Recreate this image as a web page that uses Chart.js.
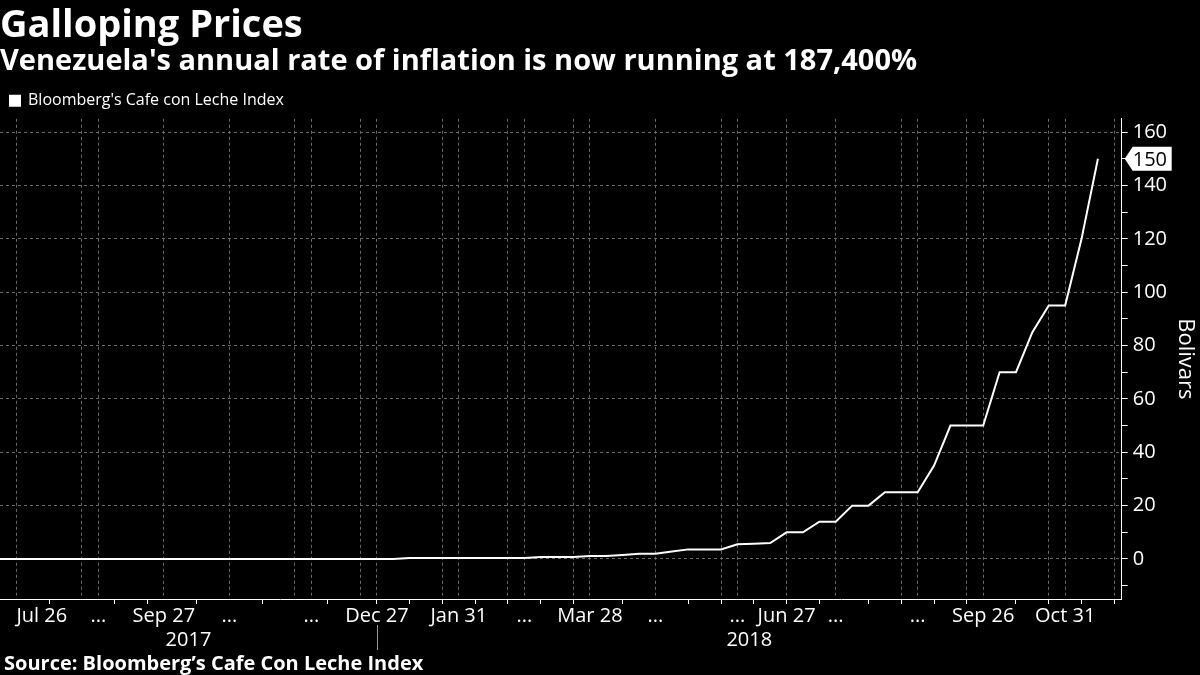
<!DOCTYPE html>
<html>
<head>
<meta charset="utf-8">
<script src="https://cdn.jsdelivr.net/npm/chart.js@4.4.0/dist/chart.umd.min.js"></script>
<style>
  html, body { margin: 0; padding: 0; background: #000; }
  #wrap { width: 1200px; height: 675px; position: relative; }
</style>
</head>
<body>
<div id="wrap"><canvas id="chart"></canvas></div>
<script>
// ---- Data: weekly Cafe con Leche readings (bolivars) ----
const dates = [
  '2017-07-19','2017-07-26','2017-08-02','2017-08-09','2017-08-16','2017-08-23','2017-08-30',
  '2017-09-06','2017-09-13','2017-09-20','2017-09-27','2017-10-04','2017-10-11','2017-10-18',
  '2017-10-25','2017-11-01','2017-11-08','2017-11-15','2017-11-22','2017-11-29','2017-12-06',
  '2017-12-13','2017-12-20','2017-12-27',
  '2018-01-03','2018-01-10','2018-01-17','2018-01-24','2018-01-31','2018-02-07','2018-02-14',
  '2018-02-21','2018-02-28','2018-03-07','2018-03-14','2018-03-21','2018-03-28','2018-04-04',
  '2018-04-11','2018-04-18','2018-04-25','2018-05-02','2018-05-09','2018-05-16','2018-05-23',
  '2018-05-30','2018-06-13','2018-06-20','2018-06-27','2018-07-11','2018-07-18','2018-07-25',
  '2018-08-01','2018-08-08','2018-08-15','2018-08-22','2018-08-29','2018-09-05','2018-09-12',
  '2018-09-19','2018-09-26','2018-10-03','2018-10-10','2018-10-17','2018-10-24','2018-10-31',
  '2018-11-07','2018-11-14','2018-11-21'
];
const prices = [
  0, 0, 0, 0, 0, 0, 0,
  0, 0, 0, 0, 0, 0, 0,
  0, 0, 0, 0, 0, 0, 0,
  0, 0, 0,
  0, 0.4, 0.4, 0.4, 0.4, 0.4, 0.4,
  0.4, 0.4, 0.75, 0.75, 0.75, 1.1, 1.1,
  1.5, 2, 2, 2.8, 3.6, 3.6, 3.6,
  5.5, 5.7, 6, 10, 10, 14, 14,
  20, 20, 25, 25, 25, 35, 50,
  50, 50, 70, 70, 85, 95, 95,
  120, 150, null
];

// x-axis text
const shownDates  = ['2017-07-26','2017-09-27','2017-12-27','2018-01-31','2018-03-28','2018-06-27','2018-09-26','2018-10-31'];
const shownLabels = ['Jul 26','Sep 27','Dec 27','Jan 31','Mar 28','Jun 27','Sep 26','Oct 31'];
const elidedDates = ['2017-08-30','2017-10-25','2017-11-29','2018-02-28','2018-04-25','2018-05-30','2018-07-25','2018-08-29'];
const gridDates = [
  '2017-07-26','2017-08-23','2017-08-30','2017-09-27','2017-10-25','2017-11-22','2017-11-29',
  '2017-12-20','2017-12-27','2018-01-24','2018-01-31','2018-02-21','2018-02-28','2018-03-21',
  '2018-03-28','2018-04-25','2018-05-23','2018-05-30','2018-06-27','2018-07-25','2018-08-22',
  '2018-08-29','2018-09-19','2018-09-26','2018-10-24','2018-10-31','2018-11-21'
];
const tickMarkDates = [
  '2017-08-09','2017-09-06','2017-09-20','2017-10-11','2017-11-08','2017-12-06','2017-12-27',
  '2018-01-10','2018-01-24','2018-02-07','2018-02-21','2018-03-07','2018-03-21','2018-04-11',
  '2018-05-09','2018-05-23','2018-06-13','2018-06-27','2018-07-18','2018-08-08','2018-08-22',
  '2018-09-05','2018-09-19','2018-10-10','2018-10-24','2018-11-07','2018-11-21'
];
const yearLabels = ['2017', '2018'];
const yTicks = [-10, 0, 10, 20, 30, 40, 50, 60, 70, 80, 90, 100, 110, 120, 130, 140, 150, 160];

const FONT = "'Open Sans', 'Noto Sans', sans-serif";
const GRID = '#6a6a6a';
Chart.defaults.font.family = FONT;
Chart.defaults.color = '#fff';

function xLabel(v) {
  const d = dates[v];
  const k = shownDates.indexOf(d);
  if (k >= 0) return shownLabels[k];
  if (elidedDates.includes(d)) return '...';
  return '';
}

// badge on last value, year row, source line
const extras = {
  id: 'extras',
  afterDraw(chart) {
    const { ctx, chartArea } = chart;
    const xs = chart.scales.x, ys = chart.scales.y;
    ctx.save();

    // last value badge
    let last = prices.length - 1;
    while (prices[last] == null) last--;
    const yv = ys.getPixelForValue(prices[last]);
    const x0 = chartArea.right + 3;
    ctx.fillStyle = '#fff';
    ctx.beginPath();
    ctx.moveTo(x0, yv);
    ctx.lineTo(x0 + 8, yv - 12);
    ctx.lineTo(x0 + 47, yv - 12);
    ctx.lineTo(x0 + 47, yv + 12);
    ctx.lineTo(x0 + 8, yv + 12);
    ctx.closePath();
    ctx.fill();
    ctx.fillStyle = '#000';
    ctx.font = `20px ${FONT}`;
    ctx.textAlign = 'left';
    ctx.textBaseline = 'middle';
    ctx.fillText(String(prices[last]), x0 + 8, yv + 1);

    // year row
    let lastOfFirstYear = 0;
    dates.forEach((d, i) => { if (d.startsWith(yearLabels[0])) lastOfFirstYear = i; });
    const bx = xs.getPixelForValue(lastOfFirstYear);
    ctx.fillStyle = '#fff';
    ctx.textAlign = 'center';
    ctx.fillText(yearLabels[0], (chartArea.left + bx) / 2, 640);
    ctx.fillText(yearLabels[1], (bx + chartArea.right) / 2, 640);
    ctx.strokeStyle = '#999';
    ctx.lineWidth = 1;
    ctx.beginPath();
    ctx.moveTo(Math.round(bx) + 0.5, 625);
    ctx.lineTo(Math.round(bx) + 0.5, 650);
    ctx.stroke();

    // source
    ctx.textAlign = 'left';
    ctx.font = `bold 20px ${FONT}`;
    ctx.fillText('Source: Bloomberg\u2019s Cafe Con Leche Index', 4, 664);
    ctx.restore();
  }
};

new Chart(document.getElementById('chart'), {
  type: 'line',
  data: {
    datasets: [{
      label: "Bloomberg's Cafe con Leche Index",
      data: dates.map((d, i) => ({ x: i, y: prices[i] })),
      borderColor: '#fff',
      backgroundColor: '#fff',
      borderWidth: 2,
      pointRadius: 0,
      tension: 0
    }]
  },
  options: {
    responsive: true,
    maintainAspectRatio: false,
    animation: false,
    layout: { padding: { left: 0, right: 0, top: 0, bottom: 47 } },
    plugins: {
      title: {
        display: true, text: 'Galloping Prices', align: 'start', color: '#fff',
        font: { size: 38, weight: 'bold', lineHeight: 1.05 }, padding: { top: 6, bottom: 0 }
      },
      subtitle: {
        display: true, text: "Venezuela's annual rate of inflation is now running at 187,400%",
        align: 'start', color: '#fff',
        font: { size: 29, weight: 'bold', lineHeight: 1.1 }, padding: { top: 0, bottom: 5 }
      },
      legend: {
        position: 'top', align: 'start',
        labels: { color: '#fff', boxWidth: 10, boxHeight: 10, padding: 10, font: { size: 16 } }
      },
      tooltip: { enabled: false }
    },
    scales: {
      x: {
        type: 'linear', min: 0, max: 68.45,
        afterBuildTicks: s => { s.ticks = dates.slice(1).map((d, k) => ({ value: k + 1 })); },
        ticks: {
          autoSkip: false, maxRotation: 0, align: 'inner', padding: 0,
          color: '#fff', font: { size: 20 }, callback: v => xLabel(v)
        },
        grid: {
          color: c => (c.tick && gridDates.includes(dates[c.tick.value])) ? GRID : 'transparent',
          tickColor: c => (c.tick && tickMarkDates.includes(dates[c.tick.value])) ? '#fff' : 'transparent',
          tickLength: 5, lineWidth: 1
        },
        border: { display: true, color: '#fff', width: 1, dash: [3, 3] }
      },
      y: {
        position: 'right', min: -15, max: 165,
        afterBuildTicks: s => { s.ticks = yTicks.map(v => ({ value: v })); },
        ticks: {
          padding: 5, color: '#fff', font: { size: 20 },
          callback: v => (v % 20 === 0 ? String(v) : '')
        },
        grid: {
          color: c => (c.tick && c.tick.value % 20 === 0) ? GRID : 'transparent',
          tickColor: '#fff', tickLength: 6, lineWidth: 1
        },
        border: { display: true, color: '#fff', width: 1, dash: [3, 3] },
        title: {
          display: true, text: 'Bolivars', color: '#fff',
          font: { size: 22, lineHeight: 1.0 }, padding: { top: 4, bottom: 2 }
        }
      }
    }
  },
  plugins: [extras]
});
</script>
</body>
</html>
